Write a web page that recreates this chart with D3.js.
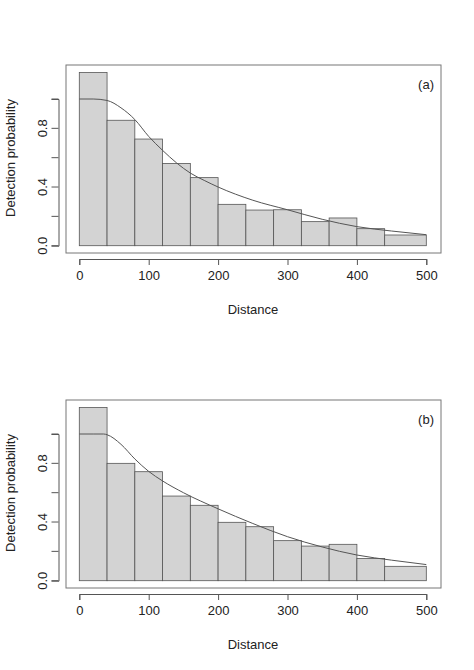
<!DOCTYPE html><html><head><meta charset="utf-8">
<script src="https://cdn.jsdelivr.net/npm/d3@7"></script>
<style>body{margin:0;background:#fff}svg{font-family:"Liberation Sans",Arial,sans-serif}</style></head><body>
<svg id="c" width="474" height="670"></svg>
<script>
const binEdges=[0,40,80,120,160,200,240,280,320,360,400,440,500];
const barsA=[1.18,0.855,0.727,0.561,0.464,0.282,0.243,0.245,0.164,0.189,0.116,0.073];
const barsB=[1.18,0.80,0.743,0.577,0.514,0.398,0.368,0.273,0.236,0.248,0.152,0.098];
const curveXA=[0,20,40,60,80,100,120,140,160,180,200,250,300,350,400,450,500];
const curveYA=[1,1,0.99,0.94,0.86,0.745,0.65,0.565,0.495,0.445,0.40,0.31,0.245,0.18,0.13,0.10,0.075];
const curveXB=[0,20,35,40,60,80,100,120,150,200,250,300,350,400,450,500];
const curveYB=[1,1,1,0.995,0.93,0.83,0.745,0.68,0.60,0.49,0.39,0.30,0.23,0.175,0.14,0.11];
const xTicks=[0,100,200,300,400,500];
const yTicks=[0,0.2,0.4,0.6,0.8,1.0];
const yLabels=[0,0.4,0.8];
const panels=[{bars:barsA,cx:curveXA,cy:curveYA,lab:"(a)",off:0},{bars:barsB,cx:curveXB,cy:curveYB,lab:"(b)",off:335}];
const svg=d3.select("#c");
const x=d3.scaleLinear().domain([0,500]).range([79.3,426.3]);
panels.forEach(p=>{
  const g=svg.append("g").attr("transform",`translate(0,${p.off})`);
  const y=d3.scaleLinear().domain([0,1]).range([245.7,99]);
  g.append("rect").attr("x",66).attr("y",65).attr("width",375).attr("height",188).attr("fill","none").attr("stroke","#777");
  g.selectAll(".bar").data(p.bars).enter().append("rect")
   .attr("x",(d,i)=>x(binEdges[i])).attr("width",(d,i)=>x(binEdges[i+1])-x(binEdges[i]))
   .attr("y",d=>y(d)).attr("height",d=>y(0)-y(d)).attr("fill","#d3d3d3").attr("stroke","#555").attr("stroke-width",0.8);
  g.append("path").datum(p.cx.map((v,i)=>[v,p.cy[i]]))
   .attr("d",d3.line().x(d=>x(d[0])).y(d=>y(d[1])).curve(d3.curveMonotoneX))
   .attr("fill","none").attr("stroke","#555").attr("stroke-width",1);
  const xa=g.append("g").attr("transform","translate(0,259)").call(d3.axisBottom(x).tickValues(xTicks).tickSize(6).tickPadding(6));
  const ya=g.append("g").attr("transform","translate(58.5,0)").call(d3.axisLeft(y).tickValues(yTicks).tickSize(7).tickFormat(d=>yLabels.includes(d)?d3.format(".1f")(d):""));
  [xa,ya].forEach(a=>{a.selectAll("path,line").attr("stroke","#555");a.selectAll("text").attr("font-size",13).attr("fill","#222").attr("font-family","Liberation Sans, Arial, sans-serif");});
  ya.selectAll("text").attr("transform",function(){return "rotate(-90)";}).attr("x",0).attr("dx",0).attr("y",0)
    .attr("text-anchor","middle").attr("dy","0")
    .each(function(d){d3.select(this).attr("transform",`translate(-12,${y(d)}) rotate(-90)`);});
  ya.selectAll(".tick").attr("transform","translate(0,0)");
  ya.selectAll(".tick line").each(function(d){d3.select(this).attr("y1",y(d)).attr("y2",y(d));});
  g.append("text").attr("x",253).attr("y",314).attr("text-anchor","middle").attr("font-size",13).attr("fill","#222").text("Distance");
  g.append("text").attr("transform","translate(15,158) rotate(-90)").attr("text-anchor","middle").attr("font-size",13).attr("fill","#222").text("Detection probability");
  g.append("text").attr("x",434).attr("y",89).attr("text-anchor","end").attr("font-size",13).attr("fill","#222").text(p.lab);
});
</script></body></html>
